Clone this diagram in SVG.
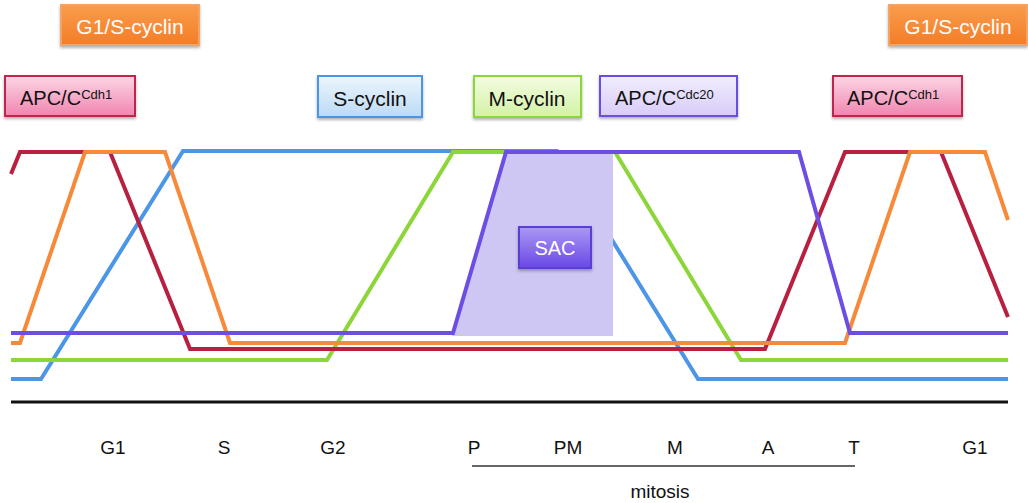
<svg xmlns="http://www.w3.org/2000/svg" width="1028" height="503" viewBox="0 0 1028 503">
<defs>
<linearGradient id="gOrange" x1="0" y1="0" x2="0" y2="1"><stop offset="0" stop-color="#f99c4c"/><stop offset="1" stop-color="#f47d26"/></linearGradient>
<linearGradient id="gPink" x1="0" y1="0" x2="0" y2="1"><stop offset="0" stop-color="#fcd6e4"/><stop offset="1" stop-color="#f085b0"/></linearGradient>
<linearGradient id="gBlue" x1="0" y1="0" x2="0" y2="1"><stop offset="0" stop-color="#ecf5fd"/><stop offset="1" stop-color="#bcdaf5"/></linearGradient>
<linearGradient id="gGreen" x1="0" y1="0" x2="0" y2="1"><stop offset="0" stop-color="#f3fce3"/><stop offset="1" stop-color="#d3f2a4"/></linearGradient>
<linearGradient id="gLav" x1="0" y1="0" x2="0" y2="1"><stop offset="0" stop-color="#f1edfd"/><stop offset="1" stop-color="#d8ccf8"/></linearGradient>
<linearGradient id="gSac" x1="0" y1="0" x2="0" y2="1"><stop offset="0" stop-color="#ab98f4"/><stop offset="1" stop-color="#6a48e6"/></linearGradient>
<filter id="sh" x="-10%" y="-10%" width="120%" height="140%"><feDropShadow dx="0" dy="2" stdDeviation="1.5" flood-color="#000" flood-opacity="0.3"/></filter>
</defs>
<style>
text{font-family:"Liberation Sans",Arial,sans-serif;fill:#111}
.box{stroke-width:2;filter:url(#sh)}
.lbl{font-size:21px}
.apc{font-size:20px}
.sup{font-size:13px}
.w{fill:#fff}
.c{fill:none;stroke-width:4;stroke-linejoin:miter}
.ax{font-size:19px;text-anchor:middle}
</style>
<rect width="1028" height="503" fill="#fff"/>

<g id="connectors">
<path class="c" stroke="#4c96e8" d="M11,379 L41,379 L183,151 L557,151 L698,379 L1008,379"/>
<polygon id="sac-zone" points="452,336 505,152 613,152 613,336" fill="#cec6f3"/>
<path class="c" stroke="#8dd63a" d="M11,360 L327,360 L453,152 L615,152 L741,360 L1008,360"/>
<path class="c" stroke="#b8203f" d="M11,174 L20,152 L110,152 L190,349 L765,349 L845,152 L941,152 L1008,317"/>
<path class="c" stroke="#f7893a" d="M11,343 L20,343 L85,152 L165,152 L230,343 L845,343 L910,152 L985,152 L1008,220"/>
<path class="c" stroke="#6c4ee3" d="M11,333 L453,333 L506,152 L799,152 L850,333 L1008,333"/>
<line x1="11" y1="402" x2="1008" y2="402" stroke="#111" stroke-width="3"/>
<line x1="472" y1="466" x2="855" y2="466" stroke="#333" stroke-width="1.5"/>
</g>

<g id="g1s-left"><rect class="box" x="61" y="5" width="138" height="40" fill="url(#gOrange)" stroke="#f2a466"/><text class="lbl w" x="130" y="34" text-anchor="middle">G1/S-cyclin</text></g>
<g id="g1s-right"><rect class="box" x="889" y="5" width="138" height="40" fill="url(#gOrange)" stroke="#f2a466"/><text class="lbl w" x="958" y="34" text-anchor="middle">G1/S-cyclin</text></g>
<g id="cdh1-left"><rect class="box" x="5" y="76" width="130" height="40" fill="url(#gPink)" stroke="#c0284c"/><text class="apc" x="20" y="105">APC/C<tspan class="sup" dy="-6">Cdh1</tspan></text></g>
<g id="cdh1-right"><rect class="box" x="833" y="76" width="129" height="40" fill="url(#gPink)" stroke="#c0284c"/><text class="apc" x="847" y="105">APC/C<tspan class="sup" dy="-6">Cdh1</tspan></text></g>
<g id="s-cyclin"><rect class="box" x="318" y="76" width="104" height="41" fill="url(#gBlue)" stroke="#4a96e6"/><text class="lbl" x="370" y="106" text-anchor="middle">S-cyclin</text></g>
<g id="m-cyclin"><rect class="box" x="474" y="76" width="107" height="41" fill="url(#gGreen)" stroke="#8cd63a"/><text class="lbl" x="527" y="106" text-anchor="middle">M-cyclin</text></g>
<g id="cdc20"><rect class="box" x="600" y="76" width="137" height="40" fill="url(#gLav)" stroke="#6c4ee3"/><text class="apc" x="615" y="105">APC/C<tspan class="sup" dy="-6">Cdc20</tspan></text></g>
<g id="sac"><rect class="box" x="519" y="227" width="72" height="41" fill="url(#gSac)" stroke="#5a3fd0" stroke-width="1"/><text class="w" x="555" y="255" font-size="20" text-anchor="middle">SAC</text></g>

<g id="phases">
<text class="ax" x="113" y="454">G1</text>
<text class="ax" x="224" y="454">S</text>
<text class="ax" x="333" y="454">G2</text>
<text class="ax" x="474" y="454">P</text>
<text class="ax" x="568" y="454">PM</text>
<text class="ax" x="675" y="454">M</text>
<text class="ax" x="768" y="454">A</text>
<text class="ax" x="854" y="454">T</text>
<text class="ax" x="975" y="454">G1</text>
<text class="ax" x="660" y="498">mitosis</text>
</g>
</svg>
